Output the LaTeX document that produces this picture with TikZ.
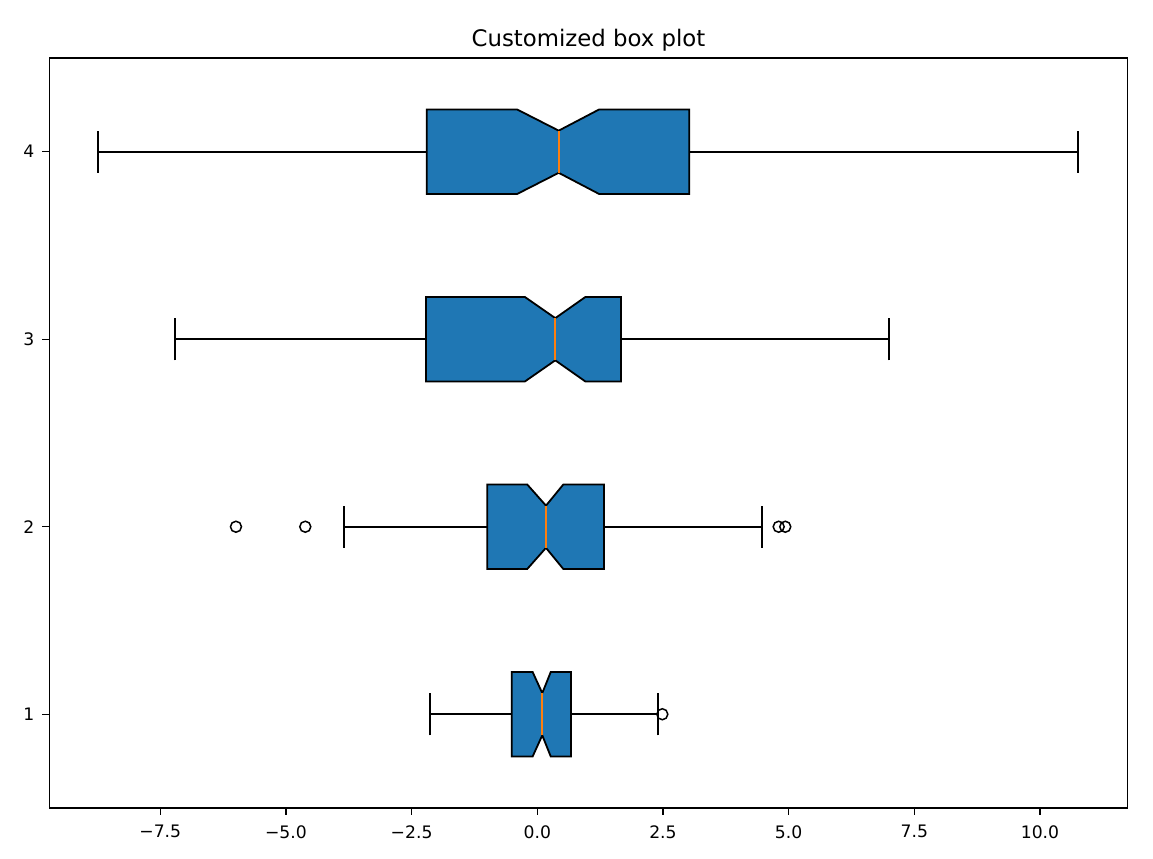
\documentclass[tikz,border=0pt]{standalone}
\usepackage{fontspec}
\setmainfont{DejaVu Sans}
\definecolor{boxblue}{HTML}{1F77B4}
\definecolor{medorange}{HTML}{FF7F0E}
\begin{document}
\begin{tikzpicture} [x=25.135pt, y=93.75pt, box/.style={draw=black, fill=boxblue, line width=0.9pt, line join=miter}, whisker/.style={draw=black, line width=0.9pt}, median/.style={draw=medorange, line width=0.9pt}, flier/.style={draw=black, line width=0.75pt, fill=none}, spine/.style={draw=black, line width=0.7pt}, ticklabel/.style={inner sep=0pt, font=\fontsize{8.6}{10}\selectfont}]
                \useasboundingbox (-10.688,0.228) rectangle (12.248,4.8093);
                % boxes: position / whisker low / q1 / notch low / median / notch high / q3 / whisker high
                \foreach \p/\wl/\qa/\nl/\md/\nh/\qb/\wh in {1/-2.140/-0.509/-0.092/0.099/0.267/0.670/2.395, 2/-3.839/-0.995/-0.199/0.173/0.517/1.327/4.464, 3/-7.207/-2.214/-0.245/0.358/0.955/1.665/6.990, 4/-8.733/-2.200/-0.398/0.426/1.227/3.024/10.756}{
                    \draw[whisker] (\wl,\p) -- (\qa,\p) (\qb,\p) -- (\wh,\p);
                    \draw[whisker] (\wl,\p-0.1125) -- (\wl,\p+0.1125) (\wh,\p-0.1125) -- (\wh,\p+0.1125);
                    \draw[box] (\qa,\p-0.225) -- (\nl,\p-0.225) -- (\md,\p-0.1125) -- (\nh,\p-0.225) -- (\qb,\p-0.225) -- (\qb,\p+0.225) -- (\nh,\p+0.225) -- (\md,\p+0.1125) -- (\nl,\p+0.225) -- (\qa,\p+0.225) -- cycle;
                    \draw[median] (\md,\p-0.1125) -- (\md,\p+0.1125);
                }
                % outliers
                \foreach \p/\v in {1/2.487, 2/-5.994, 2/-4.615, 2/4.802, 2/4.933}
                    \draw[flier] (\v,\p) circle[radius=2.75pt];
                % axes
                \draw[spine] (-9.708,0.5) rectangle (11.744,4.5);
                \foreach \t/\l in {-7.5/{−7.5}, -5/{−5.0}, -2.5/{−2.5}, 0/{0.0}, 2.5/{2.5}, 5/{5.0}, 7.5/{7.5}, 10/{10.0}}{
                    \draw[spine] (\t,0.5) -- ++(0,-3.5pt);
                    \node[ticklabel, anchor=north] (xt\t) at ([yshift=-8.5pt]\t,0.5) {\l};
                }
                \foreach \t in {1,2,3,4}{
                    \draw[spine] (-9.708,\t) -- ++(-3.5pt,0);
                    \node[ticklabel, anchor=east] (yt\t) at ([xshift=-7.3pt]-9.708,\t) {\t};
                }
                \node[anchor=base, inner sep=0pt, font=\fontsize{11.4}{13}\selectfont] (title) at (1.018,4.5603) {Customized box plot};
            \end{tikzpicture}
\end{document}
